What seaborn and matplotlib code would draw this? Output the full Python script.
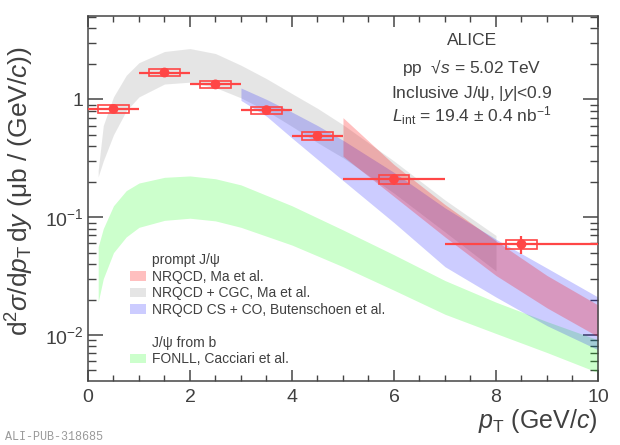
import matplotlib
matplotlib.use("Agg")
import matplotlib.pyplot as plt
from matplotlib.patches import Patch, Rectangle
from matplotlib.ticker import NullFormatter, LogLocator, MultipleLocator
import numpy as np
import seaborn as sns

# measured inclusive J/psi cross section
pt = [0.5, 1.5, 2.5, 3.5, 4.5, 6.0, 8.5]
pt_lo = [0.0, 1.0, 2.0, 3.0, 4.0, 5.0, 7.0]
pt_hi = [1.0, 2.0, 3.0, 4.0, 5.0, 7.0, 10.0]
xsec = [0.83, 1.69, 1.34, 0.81, 0.49, 0.21, 0.059]
stat_rel = [0.03, 0.03, 0.03, 0.03, 0.04, 0.11, 0.17]
syst_rel = [0.07, 0.065, 0.065, 0.07, 0.075, 0.08, 0.085]

# model bands (lower / upper edges)
gray_x = [0.2, 0.3, 0.5, 0.75, 1.0, 1.5, 2.0, 2.5, 3.0, 3.5, 4.0, 4.5, 5.0, 6.0, 7.0, 8.0]
gray_lo = [0.22, 0.3, 0.5, 0.8, 1.05, 1.35, 1.4, 1.26, 1.03, 0.8, 0.59, 0.43, 0.32, 0.16, 0.075, 0.035]
gray_hi = [0.25, 0.6, 1.05, 1.6, 2.05, 2.55, 2.7, 2.45, 1.95, 1.5, 1.12, 0.84, 0.61, 0.3, 0.14, 0.07]

blue_x = [3.0, 3.5, 4.0, 4.5, 5.0, 6.0, 7.0, 8.0, 9.0, 10.0]
blue_lo = [0.98, 0.72, 0.47, 0.31, 0.205, 0.09, 0.038, 0.021, 0.012, 0.0075]
blue_hi = [1.25, 1.0, 0.78, 0.6, 0.45, 0.24, 0.12, 0.065, 0.037, 0.021]

pink_x = [5.0, 6.0, 7.0, 8.0, 9.0, 10.0]
pink_lo = [0.33, 0.15, 0.068, 0.032, 0.017, 0.0097]
pink_hi = [0.70, 0.28, 0.128, 0.063, 0.032, 0.018]

green_x = [0.2, 0.3, 0.5, 0.75, 1.0, 1.5, 2.0, 2.5, 3.0, 4.0, 5.0, 6.0, 7.0, 8.0, 9.0, 10.0]
green_lo = [0.019, 0.03, 0.05, 0.068, 0.082, 0.094, 0.098, 0.093, 0.082, 0.058, 0.038, 0.024, 0.015, 0.0103, 0.0071, 0.0048]
green_hi = [0.056, 0.08, 0.125, 0.168, 0.195, 0.218, 0.224, 0.212, 0.188, 0.125, 0.078, 0.048, 0.029, 0.019, 0.013, 0.0091]

sns.set_style("ticks")
plt.rcParams["font.family"] = ["Liberation Sans", "DejaVu Sans"]
plt.rcParams["mathtext.fontset"] = "custom"
plt.rcParams["mathtext.rm"] = "Liberation Sans"
plt.rcParams["mathtext.it"] = "Liberation Sans:italic"
plt.rcParams["mathtext.bf"] = "Liberation Sans:bold"
plt.rcParams["mathtext.sf"] = "Liberation Sans"

txt = "#404040"
red = "#ff4646"

fig = plt.figure(figsize=(6.2, 4.45), dpi=100)
ax = fig.add_axes([0.1419, 0.1438, 0.8226, 0.8202])

ax.fill_between(green_x, green_lo, green_hi, color=(0, 1, 0), alpha=0.2, lw=0)
ax.fill_between(gray_x, gray_lo, gray_hi, color=(0.55, 0.55, 0.55), alpha=0.22, lw=0)
ax.fill_between(blue_x, blue_lo, blue_hi, color=(0, 0, 1), alpha=0.2, lw=0)
ax.fill_between(pink_x, pink_lo, pink_hi, color=(1, 0, 0), alpha=0.25, lw=0)

pt_a = np.array(pt)
y_a = np.array(xsec)
xerr = [pt_a - np.array(pt_lo), np.array(pt_hi) - pt_a]
ax.errorbar(pt, xsec, xerr=xerr, yerr=y_a * np.array(stat_rel), fmt="none",
            ecolor=red, elinewidth=1.6, capsize=0, zorder=4)
for x, y, s in zip(pt, xsec, syst_rel):
    ax.add_patch(Rectangle((x - 0.3, y * (1 - s)), 0.6, 2 * s * y, fill=False,
                           edgecolor=red, lw=1.2, zorder=4))
sns.scatterplot(x=pt, y=xsec, ax=ax, color=red, s=50, edgecolor="none", zorder=5)

ax.set_yscale("log")
ax.set_xlim(0, 10)
ax.set_ylim(0.00407, 5.1)

ax.set_yticks([0.01, 0.1, 1])
ax.set_yticklabels([r"$10^{-2}$", r"$10^{-1}$", "1"])
ax.yaxis.set_minor_locator(LogLocator(base=10, subs=np.arange(2, 10)))
ax.yaxis.set_minor_formatter(NullFormatter())
ax.set_xticks([0, 2, 4, 6, 8, 10])
ax.xaxis.set_minor_locator(MultipleLocator(0.5))

for sp in ax.spines.values():
    sp.set_visible(True)
    sp.set_color("#454545")
    sp.set_linewidth(1.1)
ax.tick_params(axis="both", which="both", direction="in", top=True, right=True,
               colors="#454545", labelcolor=txt, labelsize=14)
ax.tick_params(axis="x", which="major", length=8, width=1.1, pad=6)
ax.tick_params(axis="x", which="minor", length=4.5, width=1.0)
ax.tick_params(axis="y", which="major", length=11, width=1.1, pad=3)
ax.tick_params(axis="y", which="minor", length=5.5, width=1.0)

ax.set_xlabel(r"$p_{\rm T}$ (GeV/$c$)", fontsize=18, color=txt, loc="right")
ax.xaxis.set_label_coords(1.0, -0.072)
ax.set_ylabel(r"d$^{2}\sigma$/d$p_{\rm T}\,$d$y$ (μb / (GeV/$c$))", fontsize=19, color=txt)
ax.yaxis.set_label_coords(-0.102, 0.52)

info = ["ALICE", r"pp  √$s$ = 5.02 TeV", r"Inclusive J/ψ, |$y$|<0.9",
        r"$L_{\rm int}$ = 19.4 ± 0.4 nb$^{-1}$"]
for line, yy in zip(info, [0.932, 0.858, 0.788, 0.727]):
    ax.text(0.753, yy, line, transform=ax.transAxes, ha="center", va="center",
            fontsize=12.5, color=txt)

blank = dict(facecolor="none", edgecolor="none")
handles = [
    Patch(label="prompt J/ψ", **blank),
    Patch(facecolor=(1, 0, 0), alpha=0.25, lw=0, label="NRQCD, Ma et al."),
    Patch(facecolor=(0.55, 0.55, 0.55), alpha=0.22, lw=0, label="NRQCD + CGC, Ma et al."),
    Patch(facecolor=(0, 0, 1), alpha=0.2, lw=0, label="NRQCD CS + CO, Butenschoen et al."),
    Patch(label=" ", **blank),
    Patch(label="J/ψ from b", **blank),
    Patch(facecolor=(0, 1, 0), alpha=0.2, lw=0, label="FONLL, Cacciari et al."),
]
leg = ax.legend(handles=handles, loc="upper left", bbox_to_anchor=(0.082, 0.35),
                frameon=False, fontsize=10, labelspacing=0.18, handlelength=1.2,
                handleheight=0.7, handletextpad=0.4, borderpad=0, borderaxespad=0,
                labelcolor=txt)

fig.text(0.008, 0.018, "ALI-PUB-318685", family=["Liberation Mono", "DejaVu Sans Mono"],
         fontsize=8.5, color="#9a9a9a", va="center")

fig.savefig("out.png", dpi=100)
